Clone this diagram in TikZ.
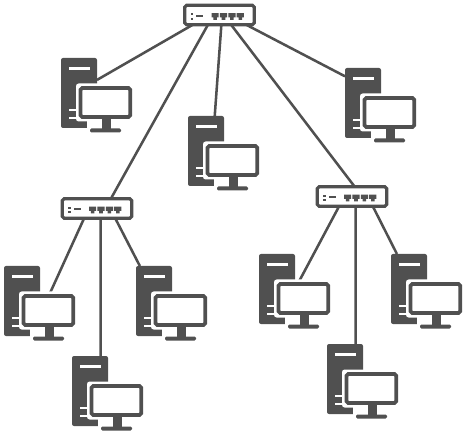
\documentclass[tikz,border=0pt]{standalone}
\usetikzlibrary{backgrounds}
\definecolor{icongray}{HTML}{505050}
\tikzset{
    tower/.style={fill=icongray, rounded corners=1.5pt, minimum width=27pt, minimum height=52.5pt, inner sep=0pt, outer sep=0pt, anchor=north west},
    switchbox/.style={draw=icongray, fill=white, line width=2.4pt, rounded corners=1.3pt, minimum width=52pt, minimum height=14.5pt, inner sep=0pt, outer sep=0pt},
    link/.style={draw=icongray, line width=1.9pt},
    screen/.pic={
        % slots on the tower
        \fill[white] (8,9) rectangle (29,11.6);
        \fill[white] (8,50.6) rectangle (16,53);
        \fill[white] (8,59) rectangle (16,61.3);
        % halo, then stand and monitor
        \fill[white, rounded corners=2pt] (15,25.5) rectangle (74,63.5);
        \fill[white] (26,63) rectangle (63,76);
        \fill[icongray] (41,60) rectangle (49.5,71);
        \fill[icongray, rounded corners=1pt] (29,70.5) rectangle (60,74.5);
        \draw[icongray, fill=white, line width=2.8pt, rounded corners=1.2pt] (19.5,30.1) rectangle (69.2,58.9);
    },
    ports/.pic={
        \fill[icongray] (-28.8,-1.5) rectangle (-26.5,0.5);
        \fill[icongray] (-28.8,2.8) rectangle (-26.5,5);
        \fill[icongray] (-23.5,0) rectangle (-16.5,2);
        \foreach \portx in {-8,0.4,8.8,17.2}{
            \fill[icongray] (\portx,-1.8) -- ++(7.2,0) -- ++(0,4.2) -- ++(-1.8,0) -- ++(0,2.6) -- ++(-3.6,0) -- ++(0,-2.6) -- ++(-1.8,0) -- cycle;
        }
    },
}
\begin{document}
\begin{tikzpicture}[x=0.75pt, y=-0.75pt]
    \useasboundingbox (0,0) rectangle (465,435);

    % --- Switches ---
    \node[switchbox] (swTop) at (219.5,15) {};
    \node[switchbox] (swLeft) at (97,208.5) {};
    \node[switchbox] (swRight) at (352,196.5) {};
    \foreach \sw in {swTop,swLeft,swRight}{
        \pic at (\sw.center) {ports};
    }

    % --- Computers ---
    \foreach \pc/\px/\py in {pcA/61/58, pcB/188/116, pcC/345/68, pcD/4/266, pcE/136/266,
                             pcF/72/356, pcG/259/254, pcH/391/254, pcI/327/344}{
        \node[tower] (\pc) at (\px,\py) {};
        \pic at (\pc.north west) {screen};
    }

    % --- Links, behind everything ---
    \begin{pgfonlayer}{background}
        \draw[link] (swTop.200) -- (pcA.36);
        \draw[link] (swTop.220) -- (swLeft.35);
        \draw[link] (swTop.281) -- (pcB.76);
        \draw[link] (swTop.320) -- (swRight.74);
        \draw[link] (swTop.340) -- (pcC.124);

        \draw[link] (swLeft.217) -- (pcD.322);
        \draw[link] (swLeft.291) -- (pcF.73);
        \draw[link] (swLeft.332) -- (pcE.112);

        \draw[link] (swRight.217) -- (pcG.east);
        \draw[link] (swRight.291) -- (pcI.73);
        \draw[link] (swRight.335) -- (pcH.109);
    \end{pgfonlayer}
\end{tikzpicture}
\end{document}
